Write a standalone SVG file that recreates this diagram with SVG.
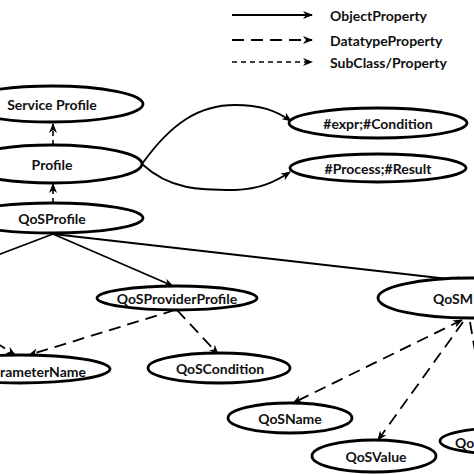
<svg xmlns="http://www.w3.org/2000/svg" width="474" height="474" viewBox="0 0 474 474">
<defs>
<marker id="arr" markerWidth="10" markerHeight="8" refX="9" refY="4" orient="auto" markerUnits="userSpaceOnUse">
<path d="M0,0 L10,4 L0,8 L3,4 z" fill="#000"/>
</marker>
<marker id="arrs" markerWidth="10" markerHeight="8" refX="1" refY="4" orient="auto" markerUnits="userSpaceOnUse">
<path d="M10,0 L0,4 L10,8 L7,4 z" fill="#000"/>
</marker>
</defs>
<style>
.n{fill:#fff;stroke:#000;stroke-width:2.8}
.t{font-family:Lato,"Liberation Sans",sans-serif;font-weight:bold;font-size:14px;fill:#111;text-anchor:middle;dominant-baseline:central}
.lt{font-family:Lato,"Liberation Sans",sans-serif;font-weight:bold;font-size:14px;fill:#111;dominant-baseline:central}
.obj{fill:none;stroke:#000;stroke-width:1.8;marker-end:url(#arr)}
.dat{fill:none;stroke:#000;stroke-width:1.8;stroke-dasharray:12 7;marker-end:url(#arr)}
.sub{fill:none;stroke:#000;stroke-width:1.6;stroke-dasharray:5 4;marker-end:url(#arr)}
</style>
<rect width="474" height="474" fill="#fff"/>
<g id="legend">
<line x1="232" y1="15" x2="312" y2="15" class="obj"/>
<text x="330" y="15" class="lt">ObjectProperty</text>
<line x1="232" y1="40" x2="312" y2="40" class="dat"/>
<text x="330" y="40" class="lt">DatatypeProperty</text>
<line x1="232" y1="62" x2="312" y2="62" class="sub"/>
<text x="330" y="62" class="lt">SubClass/Property</text>
</g>
<g id="connectors">
<line x1="53" y1="145" x2="53" y2="124" class="sub"/>
<line x1="53" y1="203" x2="53" y2="184" class="sub"/>
<path d="M142,164 C172,122 200,105 235,105 C260,105 275,110 291,121" class="obj"/>
<path d="M142,164 C170,190 200,190 235,190 C260,189 275,182 290,172" class="obj"/>
<line x1="53" y1="234" x2="173" y2="286" class="obj"/>
<line x1="53" y1="234" x2="466" y2="281" class="obj"/>
<line x1="53" y1="234" x2="-5" y2="256" class="obj" style="marker-end:none"/>
<line x1="175" y1="310" x2="29" y2="355" class="dat"/>
<line x1="177" y1="310" x2="218" y2="354" class="dat"/>
<line x1="-5" y1="342" x2="15" y2="355" class="dat"/>
<line x1="462" y1="320" x2="293" y2="403" class="dat" style="marker-start:url(#arrs)"/>
<line x1="463" y1="322" x2="378" y2="440" class="dat"/>
<line x1="470" y1="322" x2="480" y2="380" class="dat" style="marker-end:none"/>
</g>
<g id="service-profile"><ellipse cx="52" cy="104" rx="91" ry="18" class="n"/><text x="52" y="104" class="t">Service Profile</text></g>
<g id="profile"><ellipse cx="52" cy="164" rx="90" ry="19" class="n"/><text x="52" y="164" class="t">Profile</text></g>
<g id="qosprofile"><ellipse cx="52" cy="218" rx="91" ry="15" class="n"/><text x="52" y="218" class="t">QoSProfile</text></g>
<g id="expr-condition"><ellipse cx="378" cy="123" rx="89" ry="15" class="n"/><text x="378" y="123" class="t">#expr;#Condition</text></g>
<g id="process-result"><ellipse cx="378" cy="168" rx="88" ry="14" class="n"/><text x="378" y="168" class="t">#Process;#Result</text></g>
<g id="qosproviderprofile"><ellipse cx="177" cy="298" rx="80" ry="12" class="n"/><text x="177" y="298" class="t">QoSProviderProfile</text></g>
<g id="qosm"><ellipse cx="470" cy="298" rx="92" ry="20" class="n"/><text x="433" y="298" class="lt">QoSM</text></g>
<g id="parametername"><ellipse cx="20" cy="369" rx="90" ry="14" class="n"/><text x="0" y="371" class="lt">rameterName</text></g>
<g id="qoscondition"><ellipse cx="219" cy="368" rx="71" ry="15" class="n"/><text x="220" y="368" class="t">QoSCondition</text></g>
<g id="qosname"><ellipse cx="290" cy="418" rx="62" ry="15" class="n"/><text x="290" y="418" class="t">QoSName</text></g>
<g id="qosvalue"><ellipse cx="374" cy="456" rx="62" ry="16" class="n"/><text x="376" y="456" class="t">QoSValue</text></g>
<g id="qos-bottom-right"><ellipse cx="502" cy="441" rx="62" ry="13" class="n"/><text x="455" y="442" class="lt">Qo</text></g>
</svg>
